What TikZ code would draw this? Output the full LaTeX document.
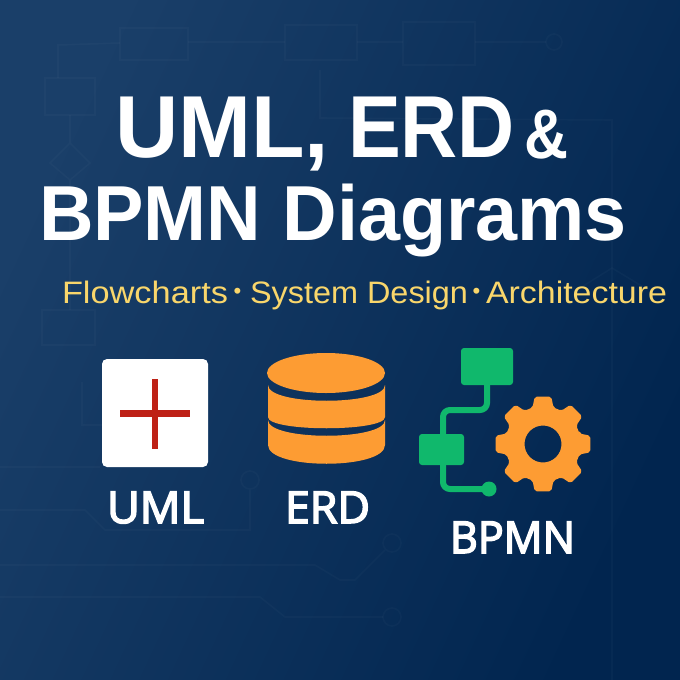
\documentclass[tikz,border=0pt]{standalone}
\usepackage{fontspec}
\usepackage{graphicx}
\setmainfont{Liberation Sans}
\newfontfamily\labfont[FakeBold=3.5]{Open Sans}
\definecolor{bgl}{HTML}{1A3F69}
\definecolor{bgr}{HTML}{01254F}
\definecolor{ora}{HTML}{FD9C33}
\definecolor{grn}{HTML}{10B86C}
\definecolor{crs}{HTML}{BE2116}
\definecolor{sub}{HTML}{F9D66B}
\tikzset{
  faint/.style={draw=white,draw opacity=0.025,line width=1.6pt},
  txt/.style={inner sep=0pt,outer sep=0pt,anchor=base west},
  flowbox/.style={fill=grn,rounded corners=3pt,inner sep=0pt,outer sep=0pt},
  flowline/.style={draw=grn,line width=6pt,rounded corners=7pt},
}
% name, x, baseline y, width, size, colour, font, text
\newcommand{\lbl}[8]{\node[txt,text=#6] (#1) at (#2,#3) {\resizebox{#4pt}{\height}{\fontsize{#5}{#5}\selectfont#7#8}};}
\begin{document}
\begin{tikzpicture}[x=1pt,y=-1pt]
\useasboundingbox (0,0) rectangle (680,680);
\shade[left color=bgl,right color=bgr,shading angle=65] (0,0) rectangle (680,680);
% faint background circuitry
\draw[faint] (120,28) rectangle (188,60);
\draw[faint] (285,25) rectangle (357,60);
\draw[faint] (403,22) rectangle (475,65);
\draw[faint] (45,78) rectangle (95,115);
\draw[faint] (58,78) -- (58,45) -- (120,43);
\draw[faint] (188,42) -- (285,42);
\draw[faint] (357,42) -- (403,42);
\draw[faint] (475,42) -- (546,42);
\draw[faint] (554,42) circle[radius=8];
\draw[faint] (70,115) -- (70,143) (50,163) -- (70,143) -- (90,163) -- (70,180) -- cycle (70,180) -- (70,310);
\draw[faint] (42,310) rectangle (95,345);
\draw[faint] (320,70) -- (320,118) -- (612,120) -- (612,680);
\draw[faint] (580,288) -- (612,268) -- (645,288);
\draw[faint] (82,382) -- (82,425) -- (102,425);
\draw[faint] (0,467) -- (100,467);
\draw[faint] (0,510) -- (85,510) -- (105,530) -- (250,530) -- (250,490);
\draw[faint] (250,480) circle[radius=9];
\draw[faint] (0,565) -- (315,565) -- (340,580) -- (355,580) -- (385,550);
\draw[faint] (392,543) circle[radius=9];
\draw[faint] (0,597) -- (260,597) -- (285,617) -- (383,617);
\draw[faint] (392,617) circle[radius=9];
% title
\lbl{t1}{115}{157}{214}{88}{white}{\bfseries}{UML,}
\lbl{t2}{348}{157}{167}{88}{white}{\bfseries}{ERD}
\lbl{t3}{524}{158}{44}{70}{white}{\bfseries}{\&}
\lbl{t4}{39}{240}{588}{78}{white}{\bfseries}{BPMN Diagrams}
% subtitle
\lbl{s1}{62}{303}{166}{31}{sub}{}{Flowcharts}
\node[inner sep=0pt,text=sub,font=\fontsize{22}{22}\selectfont] (d1) at (237.5,293) {•};
\lbl{s2}{250}{303}{218}{31}{sub}{}{System Design}
\node[inner sep=0pt,text=sub,font=\fontsize{22}{22}\selectfont] (d2) at (476.5,293) {•};
\lbl{s3}{486}{303}{181}{31}{sub}{}{Architecture}
% UML icon
\fill[white,rounded corners=5pt] (102,359) rectangle (208,467);
\fill[crs] (152,379) rectangle (158,449);
\fill[crs] (120,410) rectangle (190,417);
\lbl{l1}{107}{523}{97}{44}{white}{\labfont}{UML}
% ERD icon
\fill[ora] (326,373) ellipse[x radius=59,y radius=20];
\fill[ora] (268,385) .. controls (268,406) and (385,406) .. (385,385) -- (385,417)
  .. controls (385,432) and (268,432) .. (268,417) -- cycle;
\fill[ora] (268,420) .. controls (268,441) and (385,441) .. (385,420) -- (385,445)
  .. controls (385,470) and (268,470) .. (268,445) -- cycle;
\lbl{l2}{285}{523}{85}{44}{white}{\labfont}{ERD}
% BPMN icon
\node[flowbox,minimum width=52pt,minimum height=37pt] (r1) at (487,366.5) {};
\node[flowbox,minimum width=45pt,minimum height=31pt] (r2) at (441.5,449.5) {};
\node[circle,fill=grn,inner sep=0pt,minimum size=15pt] (dot) at (489,489) {};
\coordinate (j) at (443,410);
\draw[flowline] (r1.south) -- (r1.south |- j) -- (j) -- (443,434);
\draw[flowline] (443,465) -- (443,489) -- (dot.center);
\begin{scope}[shift={(543,444)}]
\fill[ora,even odd rule,rounded corners=2pt]
  (-16:38) \foreach \a in {0,45,...,315}{
    -- (\a-16:38) -- (\a-10:48) -- (\a+10:48) -- (\a+16:38)
  } -- cycle (0,0) circle[radius=18.5];
\end{scope}
\lbl{l3}{450}{553}{125}{44}{white}{\labfont}{BPMN}
\end{tikzpicture}
\end{document}
